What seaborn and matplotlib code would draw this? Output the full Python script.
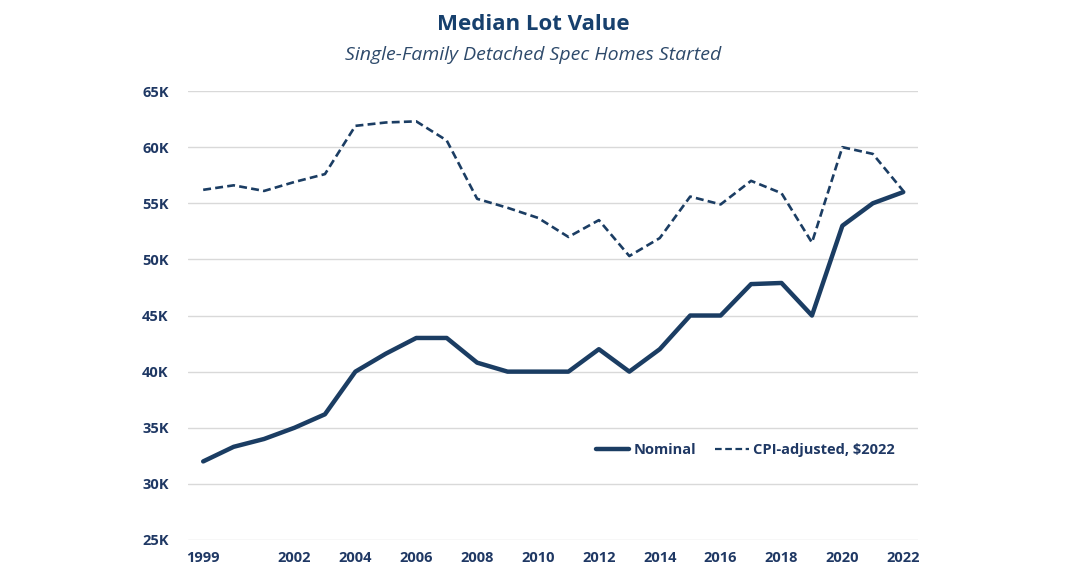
import numpy as np
import pandas as pd
import matplotlib.pyplot as plt
import seaborn as sns

years = list(range(1999, 2023))
nominal = [32.0, 33.3, 34.0, 35.0, 36.2, 40.0, 41.6, 43.0, 43.0, 40.8, 40.0, 40.0,
           40.0, 42.0, 40.0, 42.0, 45.0, 45.0, 47.8, 47.9, 45.0, 53.0, 55.0, 56.0]
cpi_adj = [56.2, 56.6, 56.1, 56.9, 57.6, 61.9, 62.2, 62.3, 60.6, 55.4, 54.6, 53.7,
           52.0, 53.5, 50.3, 51.9, 55.6, 54.9, 57.0, 55.9, 51.5, 60.0, 59.4, 56.1]
x_ticks = [1999, 2002, 2004, 2006, 2008, 2010, 2012, 2014, 2016, 2018, 2020, 2022]
y_ticks = [25, 30, 35, 40, 45, 50, 55, 60, 65]

NAVY = "#1B3D63"
TXT = "#1F3864"

sns.set_theme(style="white")
plt.rcParams["font.family"] = ["Open Sans", "DejaVu Sans"]

df = pd.DataFrame({"Year": years * 2,
                   "Value": [v * 1000 for v in nominal + cpi_adj],
                   "Series": ["Nominal"] * len(years) + ["CPI-adjusted, $2022"] * len(years)})

fig = plt.figure(figsize=(10.68, 5.8), dpi=100)
ax = fig.add_axes([0.176, 0.069, 0.684, 0.774])
sns.lineplot(data=df, x="Year", y="Value", style="Series",
             style_order=["Nominal", "CPI-adjusted, $2022"],
             dashes={"Nominal": "", "CPI-adjusted, $2022": (3, 1.6)},
             color=NAVY, ax=ax)
for ln, lw in zip(ax.lines, [3.2, 1.9]):
    ln.set_linewidth(lw)

ax.set_xlim(1998.5, 2022.5)
ax.set_ylim(25000, 65000)
ax.set_xticks(x_ticks)
ax.set_yticks([t * 1000 for t in y_ticks])
ax.set_yticklabels([f"{t}K" for t in y_ticks])
ax.set_xlabel("")
ax.set_ylabel("")
ax.grid(axis="y", color="#D9D9D9", linewidth=1)
sns.despine(ax=ax, left=True, bottom=True, top=True, right=True)
ax.tick_params(axis="both", length=0, labelsize=10.5, labelcolor=TXT)
ax.tick_params(axis="y", pad=14)
ax.tick_params(axis="x", pad=8)
for lab in ax.get_xticklabels() + ax.get_yticklabels():
    lab.set_fontweight("bold")

leg = ax.legend(loc="center", bbox_to_anchor=(0.763, 0.20), ncol=2, frameon=False,
                handlelength=2.2, columnspacing=1.2, handletextpad=0.3)
for h in leg.get_lines():
    h.set_color(NAVY)
leg.get_lines()[0].set_linewidth(3.2)
leg.get_lines()[1].set_linewidth(1.6)
for t in leg.get_texts():
    t.set_color(TXT)
    t.set_fontweight("bold")
    t.set_fontsize(10.5)

fig.text(0.499, 0.957, "Median Lot Value", ha="center", va="center",
         fontsize=16, fontweight="bold", color="#17406D")
fig.text(0.499, 0.905, "Single-Family Detached Spec Homes Started", ha="center",
         va="center", fontsize=14, style="italic", color="#2E4A6B")

fig.savefig("out.png", dpi=100)
